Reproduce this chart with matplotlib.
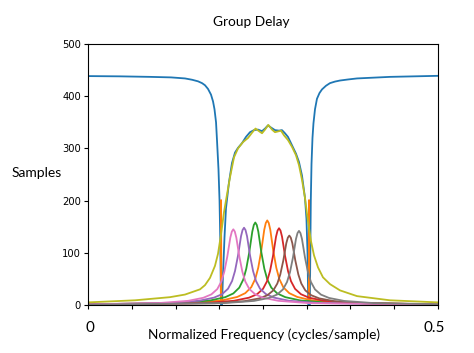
import matplotlib.pyplot as plt

# outer group delay curve (blue) and the wide combined response (olive)
blue_x = [0.0, 0.0457, 0.0886, 0.1186, 0.1386, 0.1486, 0.1571, 0.1629, 0.1671, 0.1714,
          0.1757, 0.1786, 0.1807, 0.1829, 0.1843, 0.1864, 0.1879, 0.1889, 0.1896, 0.1900,
          0.1914, 0.1929, 0.1950, 0.1971, 0.2014, 0.2057, 0.2100, 0.2143, 0.2200, 0.2257,
          0.2314, 0.2371, 0.2429, 0.2486, 0.2529, 0.2571, 0.2614, 0.2671, 0.2729, 0.2771,
          0.2814, 0.2857, 0.2914, 0.2971, 0.3014, 0.3057, 0.3100, 0.3121, 0.3136, 0.3147,
          0.3169, 0.3176, 0.3183, 0.3193, 0.3207, 0.3221, 0.3243, 0.3271, 0.3307, 0.3343,
          0.3400, 0.3457, 0.3529, 0.3600, 0.3714, 0.3843, 0.4314, 0.5]
blue_y = [438.5, 438, 437, 436, 434, 431.5, 428.5, 425, 421, 414,
          403, 390, 375, 350, 315, 260, 200, 130, 50, 0,
          0, 60, 130, 185, 235, 272, 292, 301, 310, 322,
          331, 335, 336, 333, 338, 344, 340, 335, 334, 335,
          329, 322, 306, 290, 274, 248, 205, 165, 100, 0,
          0, 100, 200, 270, 320, 348, 375, 395, 406, 413,
          420, 425, 428, 430, 432, 434, 437, 439]

olive_x = [0.0, 0.0671, 0.1171, 0.1386, 0.1600, 0.1671, 0.1743, 0.1814, 0.1857, 0.1900,
           0.1943, 0.1986, 0.2029, 0.2086, 0.2143, 0.2214, 0.2286, 0.2343, 0.2393, 0.2443,
           0.2486, 0.2529, 0.2576, 0.2629, 0.2671, 0.2729, 0.2757, 0.2800, 0.2857, 0.2914,
           0.2971, 0.3014, 0.3057, 0.3100, 0.3143, 0.3186, 0.3229, 0.3286, 0.3357, 0.3457,
           0.3600, 0.3843, 0.4314, 0.5]
olive_y = [5, 9, 15, 20, 30, 38, 52, 75, 98, 135,
           178, 212, 245, 283, 300, 312, 320, 330, 338, 333,
           329, 336, 345, 336, 331, 333, 334, 325, 316, 303,
           287, 268, 240, 205, 160, 122, 95, 72, 53, 40,
           28, 17, 9, 5]

# individual channel peaks
orange_x = [0.0, 0.1490, 0.1898, 0.1901, 0.1905, 0.1918, 0.2132, 0.2247, 0.2332, 0.2390,
            0.2432, 0.2475, 0.2518, 0.2540, 0.2561, 0.2582, 0.2604, 0.2647, 0.2690, 0.2732,
            0.2790, 0.2875, 0.2990, 0.3155, 0.3158, 0.3161, 0.3204, 0.3632, 0.5]
orange_y = [1.2, 4.1, 8.5, 201, 8.7, 8.9, 15.4, 22.7, 34, 50.2,
            71.3, 103.7, 144.2, 157.1, 162, 157.1, 144.2, 103.7, 71.3, 50.2,
            34, 22.7, 15.4, 10.2, 201, 10.1, 8.9, 4.1, 1.2]

green_x = [0.0, 0.1319, 0.1747, 0.1961, 0.2076, 0.2161, 0.2219, 0.2261, 0.2304, 0.2347,
           0.2369, 0.2390, 0.2411, 0.2433, 0.2476, 0.2519, 0.2561, 0.2619, 0.2704, 0.2819,
           0.3033, 0.3461, 0.5]
green_y = [1.2, 4.0, 8.7, 15.0, 22.1, 33.2, 49, 69.5, 101.1, 140.6,
           153.3, 158, 153.3, 140.6, 101.1, 69.5, 49, 33.2, 22.1, 15.0,
           8.7, 4.0, 1.2]

red_x = [0.0, 0.1658, 0.2086, 0.2300, 0.2415, 0.2500, 0.2558, 0.2600, 0.2643, 0.2686,
         0.2708, 0.2729, 0.2750, 0.2772, 0.2815, 0.2858, 0.2900, 0.2958, 0.3043, 0.3158,
         0.3372, 0.3800, 0.5]
red_y = [1.0, 3.7, 8.1, 14.0, 20.6, 30.9, 45.6, 64.7, 94.1, 130.8,
         142.6, 147, 142.6, 130.8, 94.1, 64.7, 45.6, 30.9, 20.6, 14.0,
         8.1, 3.7, 1.3]

purple_x = [0.0, 0.1158, 0.1586, 0.1800, 0.1915, 0.2000, 0.2058, 0.2100, 0.2143, 0.2186,
            0.2208, 0.2229, 0.2250, 0.2272, 0.2315, 0.2358, 0.2400, 0.2458, 0.2543, 0.2658,
            0.2872, 0.3300, 0.5]
purple_y = [1.3, 3.7, 8.1, 14.1, 20.7, 31.1, 45.9, 65.1, 94.7, 131.7,
            143.6, 148, 143.6, 131.7, 94.7, 65.1, 45.9, 31.1, 20.7, 14.1,
            8.1, 3.7, 1.1]

brown_x = [0.0, 0.1805, 0.2233, 0.2447, 0.2562, 0.2647, 0.2705, 0.2747, 0.2790, 0.2833,
           0.2855, 0.2876, 0.2897, 0.2919, 0.2962, 0.3005, 0.3047, 0.3105, 0.3190, 0.3305,
           0.3519, 0.3947, 0.5]
brown_y = [0.9, 3.3, 7.3, 12.6, 18.6, 27.9, 41.2, 58.5, 85.1, 118.4,
           129, 133, 129, 118.4, 85.1, 58.5, 41.2, 27.9, 18.6, 12.6,
           7.3, 3.3, 1.2]

pink_x = [0.0, 0.1005, 0.1433, 0.1647, 0.1762, 0.1847, 0.1905, 0.1947, 0.1990, 0.2033,
          0.2055, 0.2076, 0.2097, 0.2119, 0.2162, 0.2205, 0.2247, 0.2305, 0.2390, 0.2505,
          0.2719, 0.3147, 0.5]
pink_y = [1.3, 3.6, 8.0, 13.8, 20.3, 30.5, 45, 63.8, 92.8, 129,
          140.7, 145, 140.7, 129, 92.8, 63.8, 45, 30.5, 20.3, 13.8,
          8.0, 3.6, 1.0]

gray_x = [0.0, 0.1943, 0.2371, 0.2585, 0.2700, 0.2785, 0.2843, 0.2885, 0.2928, 0.2971,
          0.2993, 0.3014, 0.3035, 0.3057, 0.3100, 0.3143, 0.3185, 0.3243, 0.3328, 0.3443,
          0.3657, 0.4085, 0.5]
gray_y = [0.8, 3.6, 7.8, 13.5, 19.9, 29.8, 44, 62.5, 90.9, 126.4,
          137.7, 142, 137.7, 126.4, 90.9, 62.5, 44, 29.8, 19.9, 13.5,
          7.8, 3.6, 1.5]

curves = [
    (blue_x, blue_y, "tab:blue"),
    (orange_x, orange_y, "tab:orange"),
    (green_x, green_y, "tab:green"),
    (red_x, red_y, "tab:red"),
    (purple_x, purple_y, "tab:purple"),
    (brown_x, brown_y, "tab:brown"),
    (pink_x, pink_y, "tab:pink"),
    (gray_x, gray_y, "tab:gray"),
    (olive_x, olive_y, "tab:olive"),
]

x_ticks = [0, 0.0625, 0.125, 0.1875, 0.25, 0.3125, 0.375, 0.4375, 0.5]
y_ticks = [0, 100, 200, 300, 400, 500]

label_font = "Lato"

fig = plt.figure(figsize=(4.74, 3.53), dpi=100)
ax = fig.add_axes([0.1857, 0.136, 0.7383, 0.7394])

for xs, ys, color in curves:
    ax.plot(xs, ys, color=color, linewidth=1.3)

ax.set_xlim(0, 0.5)
ax.set_ylim(0, 500)
ax.set_xticks(x_ticks)
ax.set_xticklabels([])
ax.set_yticks(y_ticks)
ax.tick_params(axis="both", labelsize=7.2, length=3, width=0.8, pad=2)
for spine in ax.spines.values():
    spine.set_linewidth(0.8)

fig.text(251 / 474, 1 - 22 / 353, "Group Delay", family=label_font,
         fontsize=9.8, ha="center", va="center")
fig.text(37 / 474, 1 - 173 / 353, "Samples", family=label_font,
         fontsize=10, ha="center", va="center")
fig.text(264 / 474, 1 - 335 / 353, "Normalized Frequency (cycles/sample)",
         family=label_font, fontsize=9.8, ha="center", va="center")
fig.text(90 / 474, 1 - 328 / 353, "0", family=label_font,
         fontsize=11, ha="center", va="center")
fig.text(434 / 474, 1 - 328 / 353, "0.5", family=label_font,
         fontsize=11, ha="center", va="center")

fig.savefig("out.png", dpi=100)
